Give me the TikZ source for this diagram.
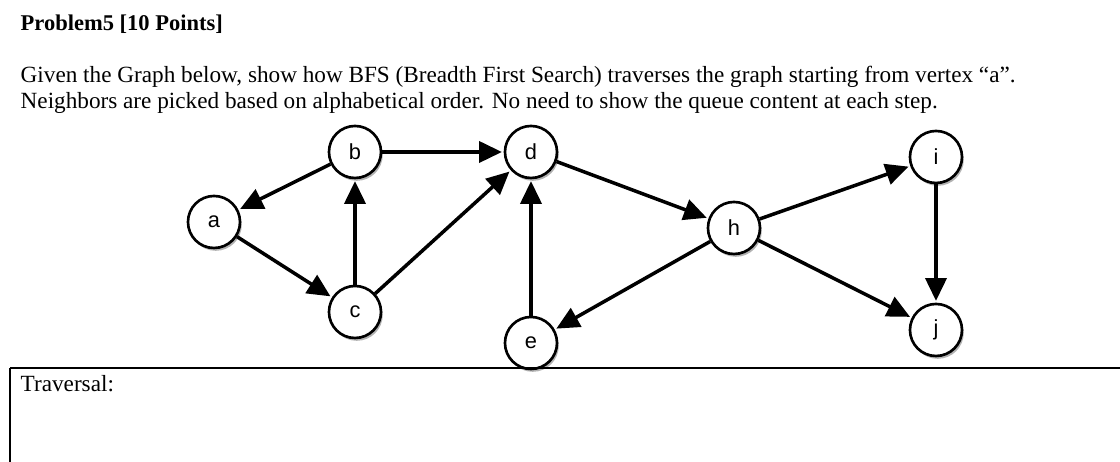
\documentclass[tikz,border=0pt]{standalone}
\usepackage{fontspec}
\setmainfont{Liberation Serif}
\newfontfamily\nodefont{Liberation Sans}
\usetikzlibrary{arrows.meta,shadows}
\begin{document}
\begin{tikzpicture}[x=0.01cm,y=-0.01cm,
  vert/.style={circle,draw,line width=0.75pt,fill=white,minimum size=0.52cm,inner sep=0pt,
    font=\nodefont\fontsize{6.2}{6}\selectfont,drop shadow={shadow xshift=0.5pt,shadow yshift=-0.8pt,fill=black!60}},
  edge/.style={line width=1pt,-{Triangle[length=6.5pt,width=6pt]},shorten >=0.5pt},
  txt/.style={anchor=base west,inner sep=0pt,font=\fontsize{6.6}{8}\selectfont}]
\useasboundingbox (0,0) rectangle (1120,462);
\node[txt,font=\fontsize{6.4}{8}\selectfont\bfseries] (title) at (20,31) {Problem5 [10 Points]};
\node[txt] (l1) at (20,83) {Given the Graph below, show how BFS (Breadth First Search) traverses the graph starting from vertex “a”.};
\node[txt] (l2) at (20,109) {Neighbors are picked based on alphabetical order. No need to show the queue content at each step.};
\node[vert] (a) at (214,222) {a};
\node[vert] (b) at (355,152) {b};
\node[vert] (d) at (531,152) {d};
\node[vert] (c) at (355,312) {c};
\node[vert] (e) at (531,343) {e};
\node[vert] (h) at (734,228) {h};
\node[vert] (i) at (936,157) {i};
\node[vert] (j) at (936,330) {j};
\draw[edge] (b) -- (a);
\draw[edge] (a) -- (c);
\draw[edge] (c) -- (b);
\draw[edge] (c) -- (d);
\draw[edge] (b) -- (d);
\draw[edge] (e) -- (d);
\draw[edge] (d) -- (h);
\draw[edge] (h) -- (i);
\draw[edge] (h) -- (e);
\draw[edge] (h) -- (j);
\draw[edge] (i) -- (j);
\draw[line width=0.3pt] (10,368) -- (1120,368) (10,368) -- (10,462);
\node[txt] (tr) at (20,392) {Traversal:};
\end{tikzpicture}
\end{document}
